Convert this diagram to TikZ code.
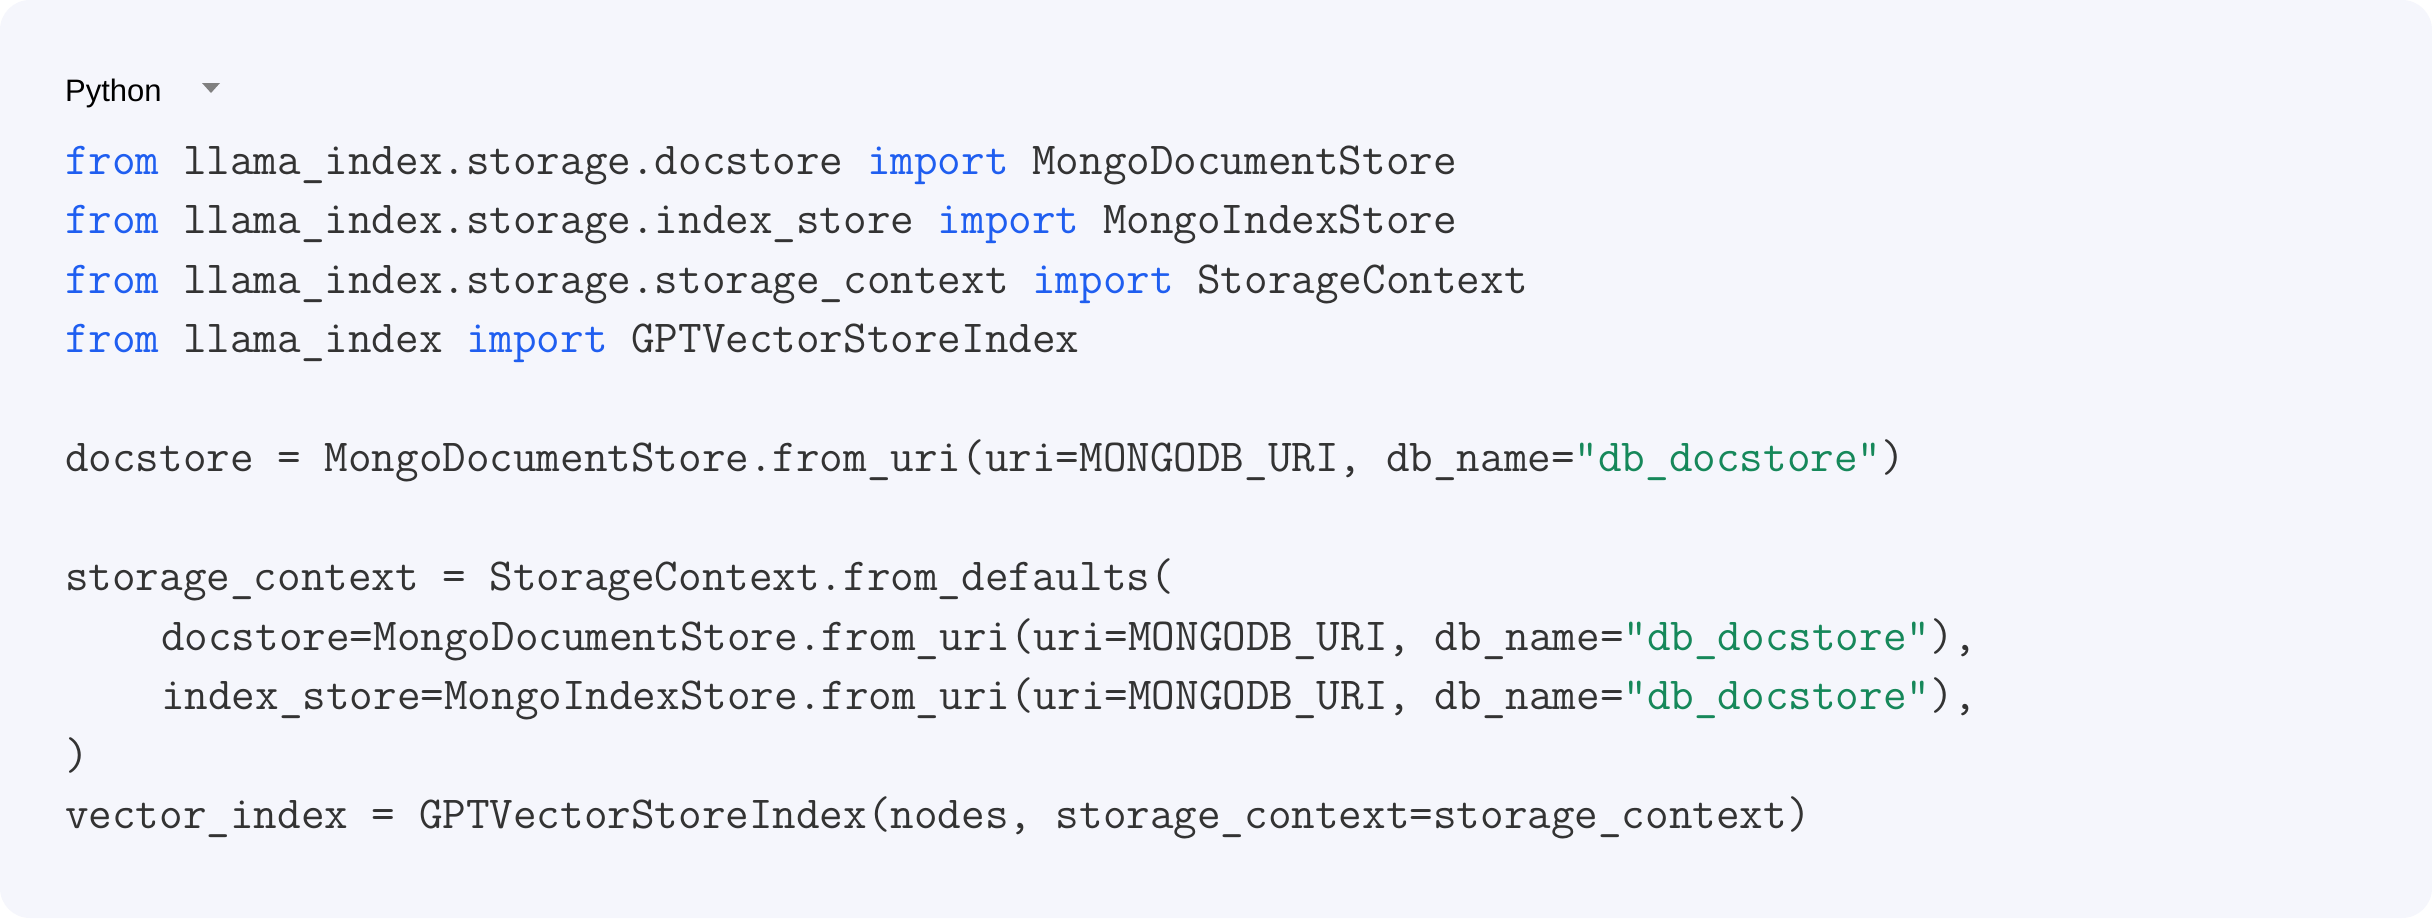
\documentclass[tikz,border=0pt]{standalone}
\usepackage{fontspec}
\newfontfamily\uisans{Liberation Sans}
\usepackage{xcolor}
\definecolor{bg}{HTML}{F5F6FC}
\definecolor{kw}{HTML}{1F5EF0}
\definecolor{str}{HTML}{16885A}
\definecolor{txt}{HTML}{333333}
\newcommand{\kw}[1]{\textcolor{kw}{#1}}
\newcommand{\st}[1]{\textcolor{str}{#1}}
\begin{document}
\begin{tikzpicture}[x=1pt,y=-1pt,
  code/.style={anchor=base west,inner sep=0pt,font=\fontsize{45.8}{50}\selectfont\ttfamily,text=txt}]
\useasboundingbox (0,0) rectangle (2432,918);
\fill[white] (0,0) rectangle (2432,918);
\fill[bg,rounded corners=30pt] (0,0) rectangle (2432,918);
\node[anchor=base west,inner sep=0pt,font=\uisans\fontsize{31}{36}\selectfont] (lang) at (65,101) {Python};
\fill[gray] (202,83) -- (220,83) -- (211,93) -- cycle;
\node[code] (l1) at (65,174) {\kw{from} llama\_index.storage.docstore \kw{import} MongoDocumentStore};
\node[code] (l2) at (65,233.5) {\kw{from} llama\_index.storage.index\_store \kw{import} MongoIndexStore};
\node[code] (l3) at (65,293) {\kw{from} llama\_index.storage.storage\_context \kw{import} StorageContext};
\node[code] (l4) at (65,352.5) {\kw{from} llama\_index \kw{import} GPTVectorStoreIndex};
\node[code] (l5) at (65,471.5) {docstore = MongoDocumentStore.from\_uri(uri=MONGODB\_URI, db\_name=\st{"db\_docstore"})};
\node[code] (l6) at (65,590.5) {storage\_context = StorageContext.from\_defaults(};
\node[code] (l7) at (161,650) {docstore=MongoDocumentStore.from\_uri(uri=MONGODB\_URI, db\_name=\st{"db\_docstore"}),};
\node[code] (l8) at (161,709.5) {index\_store=MongoIndexStore.from\_uri(uri=MONGODB\_URI, db\_name=\st{"db\_docstore"}),};
\node[code] (l9) at (65,769) {)};
\node[code] (l10) at (65,828.5) {vector\_index = GPTVectorStoreIndex(nodes, storage\_context=storage\_context)};
\end{tikzpicture}
\end{document}
